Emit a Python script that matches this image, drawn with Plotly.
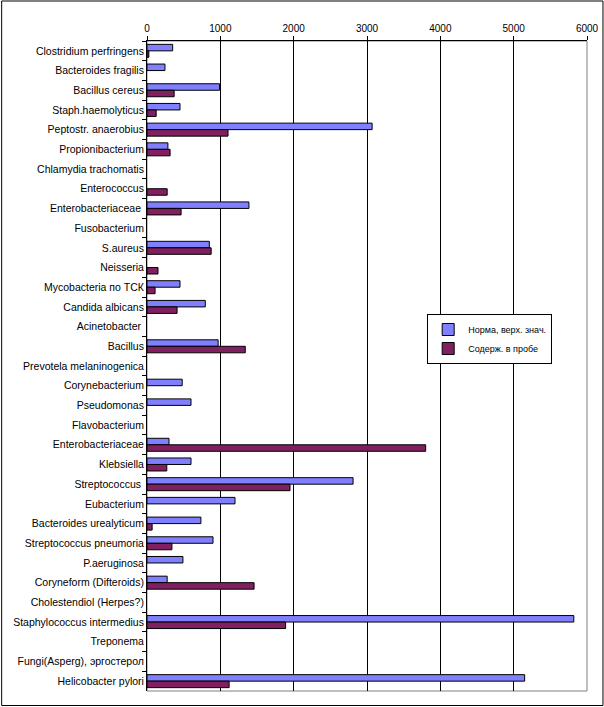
import plotly.graph_objects as go

categories = [
    "Clostridium perfringens", "Bacteroides fragilis", "Bacillus cereus",
    "Staph.haemolyticus", "Peptostr. anaerobius", "Propionibacterium",
    "Chlamydia trachomatis", "Enterococcus", "Enterobacteriaceae ",
    "Fusobacterium", "S.aureus", "Neisseria", "Mycobacteria по ТСК",
    "Candida albicans", "Acinetobacter ", "Bacillus", "Prevotela melaninogenica",
    "Corynebacterium", "Pseudomonas", "Flavobacterium", "Enterobacteriaceae",
    "Klebsiella", "Streptococcus ", "Eubacterium", "Bacteroides urealyticum",
    "Streptococcus pneumoria", "P.aeruginosa", "Coryneform (Difteroids)",
    "Cholestendiol (Herpes?)", "Staphylococcus intermedius", "Treponema",
    "Fungi(Asperg), эргостерол", "Helicobacter pylori",
]

norm = [350, 245, 990, 450, 3070, 285, None, None, 1390, None, 850, None, 450,
        795, None, 970, None, 480, 600, None, 300, 600, 2810, 1200, 735, 900,
        490, 275, None, 5820, None, None, 5150]

sample = [25, None, 370, 125, 1105, 315, None, 275, 465, None, 875, 150, 110,
          410, None, 1340, None, None, None, None, 3800, 270, 1950, None, 70,
          340, None, 1460, None, 1890, None, None, 1120]

series_names = ["Норма, верх. знач.", "Содерж. в пробе"]
x_ticks = [0, 1000, 2000, 3000, 4000, 5000, 6000]

W, H = 604, 707
L, R, T, B = 146.5, 17, 41, 16
pw, ph = W - L - R, H - T - B

fig = go.Figure()
fig.add_trace(go.Bar(
    y=categories, x=norm, orientation="h", name=series_names[0],
    marker=dict(color="#8080FF", line=dict(color="black", width=1)),
))
fig.add_trace(go.Bar(
    y=categories, x=sample, orientation="h", name=series_names[1],
    marker=dict(color="#802060", line=dict(color="black", width=1)),
))

font = "Liberation Sans, Arial, sans-serif"

def px_x(p):
    return (p - L) / pw

def px_y(p):
    return 1 - (p - T) / ph

fig.update_layout(
    width=W, height=H,
    margin=dict(l=L, r=R, t=T, b=B, pad=0, autoexpand=False),
    paper_bgcolor="white", plot_bgcolor="white",
    barmode="group", bargap=0.34, bargroupgap=0,
    font=dict(family=font, size=10, color="black"),
    showlegend=True,
    legend=dict(
        x=px_x(427), y=px_y(314), xanchor="left", yanchor="top",
        bgcolor="white", bordercolor="black", borderwidth=1,
        font=dict(family=font, size=9, color="black"),
        tracegroupgap=0, itemwidth=30,
    ),
    xaxis=dict(
        side="top", range=[0, 6000], tickvals=x_ticks,
        showgrid=True, gridcolor="black", gridwidth=1,
        showline=True, linecolor="black", linewidth=1,
        ticks="outside", ticklen=4, tickcolor="black",
        zeroline=False, tickfont=dict(size=10), fixedrange=True,
        automargin=False,
    ),
    yaxis=dict(
        type="category", autorange="reversed",
        showline=True, linecolor="black", linewidth=1,
        ticks="outside", ticklen=4, tickcolor="black",
        tickson="boundaries", showgrid=False,
        tickfont=dict(size=10.5), fixedrange=True,
        automargin=False,
    ),
    shapes=[
        dict(type="rect", xref="paper", yref="paper", x0=0, x1=1, y0=0, y1=1,
             line=dict(color="#808080", width=1), layer="below"),
        dict(type="rect", xref="paper", yref="paper",
             x0=px_x(1), x1=px_x(603), y0=px_y(705.5), y1=px_y(1),
             line=dict(color="black", width=1), layer="below"),
    ],
)

fig.write_html(
    "out.html",
    config={"displayModeBar": False},
    post_script="document.body.style.margin='0';document.body.style.overflow='hidden';",
)
